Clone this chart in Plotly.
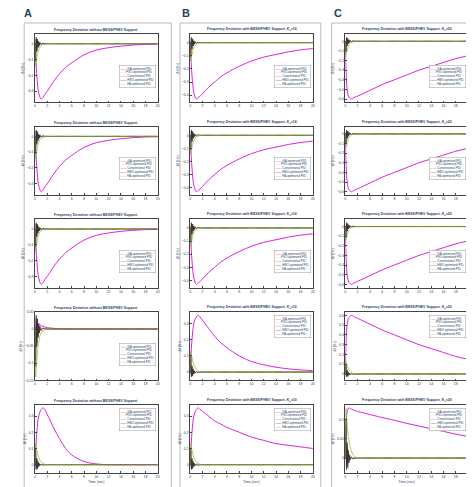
import plotly.graph_objects as go
from plotly.subplots import make_subplots

# time bases
t_slow = [0, 0.3, 0.6, 1, 1.3, 1.6, 2, 3, 4, 5, 6, 8, 10, 12, 14, 16, 18, 20]
t_fast = [0, 0.1, 0.2, 0.3, 0.4, 0.5, 0.6, 0.7, 0.8, 1.0, 1.2, 1.5, 2, 3, 4, 20]

# optimised controllers (fast oscillatory settle), dip responses
ga_dip = [0, -0.09, 0.03, -0.04, 0.02, -0.02, 0.01, -0.01, 0.005, -0.004, 0.002, 0, 0, 0, 0, 0]
pso_dip = [0, -0.08, 0.02, -0.03, 0.015, -0.012, 0.008, -0.006, 0.003, -0.002, 0.001, 0, 0, 0, 0, 0]
hbo_dip = [0, -0.11, 0.04, -0.05, 0.03, -0.025, 0.015, -0.012, 0.008, -0.005, 0.003, 0.001, 0, 0, 0, 0]
fa_dip = [0, -0.14, -0.12, -0.09, -0.07, -0.05, -0.04, -0.03, -0.02, -0.012, -0.007, -0.003, 0, 0, 0, 0]
# optimised controllers, rise responses
ga_up = [0, 0.08, -0.02, 0.03, -0.015, 0.012, -0.008, 0.005, -0.003, 0.002, -0.001, 0, 0, 0, 0, 0]
pso_up = [0, 0.07, -0.015, 0.025, -0.012, 0.01, -0.006, 0.004, -0.002, 0.001, 0, 0, 0, 0, 0, 0]
hbo_up = [0, 0.1, -0.03, 0.04, -0.025, 0.02, -0.012, 0.008, -0.005, 0.003, -0.002, -0.001, 0, 0, 0, 0]
fa_up = [0, 0.13, 0.11, 0.09, 0.07, 0.055, 0.045, 0.035, 0.028, 0.018, 0.01, 0.004, 0.001, 0, 0, 0]

# conventional PID, one per panel (columns A, B, C; rows 1-5)
conv = {
    (1, 1): [0, -0.2, -0.31, -0.35, -0.34, -0.32, -0.3, -0.24, -0.19, -0.15, -0.12, -0.07, -0.04, -0.025, -0.015, -0.008, -0.004, -0.002],
    (2, 1): [0, -0.2, -0.31, -0.35, -0.34, -0.32, -0.3, -0.24, -0.19, -0.15, -0.12, -0.07, -0.04, -0.025, -0.015, -0.008, -0.004, -0.002],
    (3, 1): [0, -0.2, -0.31, -0.35, -0.34, -0.32, -0.3, -0.24, -0.19, -0.15, -0.12, -0.07, -0.04, -0.025, -0.015, -0.008, -0.004, -0.002],
    (4, 1): [0, 0.01, 0.015, 0.01, 0.008, 0.006, 0.004, 0.002, 0.001, 0, 0, 0, 0, 0, 0, 0, 0, 0],
    (5, 1): [0, 0.2, 0.3, 0.34, 0.35, 0.34, 0.31, 0.23, 0.16, 0.1, 0.06, 0.02, 0.005, 0, 0, 0, 0, 0],
    (1, 2): [0, -0.25, -0.38, -0.43, -0.42, -0.41, -0.39, -0.34, -0.3, -0.26, -0.23, -0.18, -0.14, -0.11, -0.09, -0.07, -0.055, -0.045],
    (2, 2): [0, -0.25, -0.38, -0.43, -0.42, -0.41, -0.39, -0.34, -0.3, -0.26, -0.23, -0.18, -0.14, -0.11, -0.09, -0.07, -0.055, -0.045],
    (3, 2): [0, -0.25, -0.38, -0.43, -0.42, -0.41, -0.39, -0.34, -0.3, -0.26, -0.23, -0.18, -0.14, -0.11, -0.09, -0.07, -0.055, -0.045],
    (4, 2): [0, 0.2, 0.3, 0.34, 0.35, 0.34, 0.32, 0.27, 0.22, 0.18, 0.15, 0.1, 0.065, 0.045, 0.03, 0.02, 0.013, 0.009],
    (5, 2): [0, 0.2, 0.3, 0.34, 0.35, 0.34, 0.33, 0.3, 0.27, 0.25, 0.23, 0.2, 0.17, 0.15, 0.13, 0.12, 0.11, 0.1],
    (1, 3): [0, -0.5, -0.58, -0.6, -0.59, -0.58, -0.57, -0.54, -0.51, -0.48, -0.45, -0.4, -0.35, -0.3, -0.26, -0.22, -0.18, -0.15],
    (2, 3): [0, -0.5, -0.58, -0.6, -0.59, -0.58, -0.57, -0.54, -0.51, -0.48, -0.45, -0.4, -0.35, -0.3, -0.26, -0.22, -0.18, -0.15],
    (3, 3): [0, -0.5, -0.58, -0.6, -0.59, -0.58, -0.57, -0.54, -0.51, -0.48, -0.45, -0.4, -0.35, -0.3, -0.26, -0.22, -0.18, -0.15],
    (4, 3): [0, 0.5, 0.58, 0.6, 0.59, 0.58, 0.57, 0.54, 0.51, 0.48, 0.45, 0.4, 0.35, 0.3, 0.26, 0.22, 0.18, 0.15],
    (5, 3): [0, 0.12, 0.13, 0.127, 0.125, 0.123, 0.121, 0.117, 0.113, 0.109, 0.105, 0.098, 0.09, 0.083, 0.076, 0.069, 0.062, 0.056],
}

names = ["GA-optimized PID", "PSO-optimized PID", "Conventional PID", "HBO-optimized PID", "FA-optimized PID"]
colors = ["#ff3030", "#30c0c0", "#e020e0", "#202020", "#80c020"]
col_titles = [
    "Frequency Deviation without BESS/PHEV Support",
    "Frequency Deviation with BESS/PHEV Support, K<sub>p</sub>=10",
    "Frequency Deviation with BESS/PHEV Support, K<sub>p</sub>=20",
]

fig = make_subplots(rows=5, cols=3, horizontal_spacing=0.075, vertical_spacing=0.055)

legend_text = "<br>".join(
    f"<span style='color:{col}'>{'- - -' if i == 1 else '——'}</span> {nm}"
    for i, (nm, col) in enumerate(zip(names, colors))
)

for c in range(1, 4):
    for r in range(1, 6):
        up = r >= 4 and not (r == 4 and c == 1)
        fast = [ga_up, pso_up, None, hbo_up, fa_up] if up else [ga_dip, pso_dip, None, hbo_dip, fa_dip]
        for i in range(5):
            if i == 2:
                x, y = t_slow, conv[(r, c)]
            else:
                x, y = t_fast, fast[i]
            fig.add_trace(go.Scatter(
                x=x, y=y, mode="lines", name=names[i], showlegend=False,
                line=dict(color=colors[i], width=1 if i == 2 else 0.7,
                          dash="dash" if i == 1 else "solid", shape="spline"),
            ), row=r, col=c)
        sp = fig.get_subplot(r, c)
        xd, yd = sp.xaxis.domain, sp.yaxis.domain
        ypos = yd[1] - 0.008 if up else yd[0] + (yd[1] - yd[0]) * 0.55
        fig.add_annotation(text=legend_text, x=xd[1] - 0.004, y=ypos, xref="paper", yref="paper",
                           xanchor="right", yanchor="top", align="left", showarrow=False,
                           font=dict(size=3), bgcolor="white", bordercolor="#999",
                           borderwidth=0.5, borderpad=1)
        fig.add_annotation(text=f"<b>{col_titles[c-1]}</b>", x=(xd[0] + xd[1]) / 2, y=yd[1],
                           xref="paper", yref="paper", xanchor="center", yanchor="bottom",
                           showarrow=False, font=dict(size=3.5))

fig.update_xaxes(range=[0, 20], dtick=2, tickfont=dict(size=3.5), showgrid=False,
                 showline=True, linecolor="#444", linewidth=0.5, mirror=True, ticks="inside", ticklen=2)
fig.update_yaxes(tickfont=dict(size=3.5), showgrid=False, zeroline=False, nticks=8,
                 showline=True, linecolor="#444", linewidth=0.5, mirror=True, ticks="inside", ticklen=2,
                 title=dict(text="Δf (Hz)", font=dict(size=3.5), standoff=2))
for c in range(1, 4):
    fig.update_xaxes(title=dict(text="Time (sec)", font=dict(size=3.5), standoff=2), row=5, col=c)

for lab, x in zip(["A", "B", "C"], [-0.03, 0.335, 0.685]):
    fig.add_annotation(text="<b>" + lab + "</b>", x=x, y=1.03, xref="paper", yref="paper",
                       xanchor="left", yanchor="bottom", showarrow=False,
                       font=dict(size=11, family="Arial"))
for x0, x1 in [(-0.025, 0.315), (0.335, 0.66), (0.685, 1.0)]:
    fig.add_shape(type="rect", xref="paper", yref="paper", x0=x0, x1=x1, y0=-0.05, y1=1.025,
                  line=dict(color="#bbb", width=1))

fig.update_layout(width=474, height=487, margin=dict(l=18, r=14, t=26, b=22),
                  paper_bgcolor="white", plot_bgcolor="white", font=dict(family="Arial"))
fig.write_html("out.html")
